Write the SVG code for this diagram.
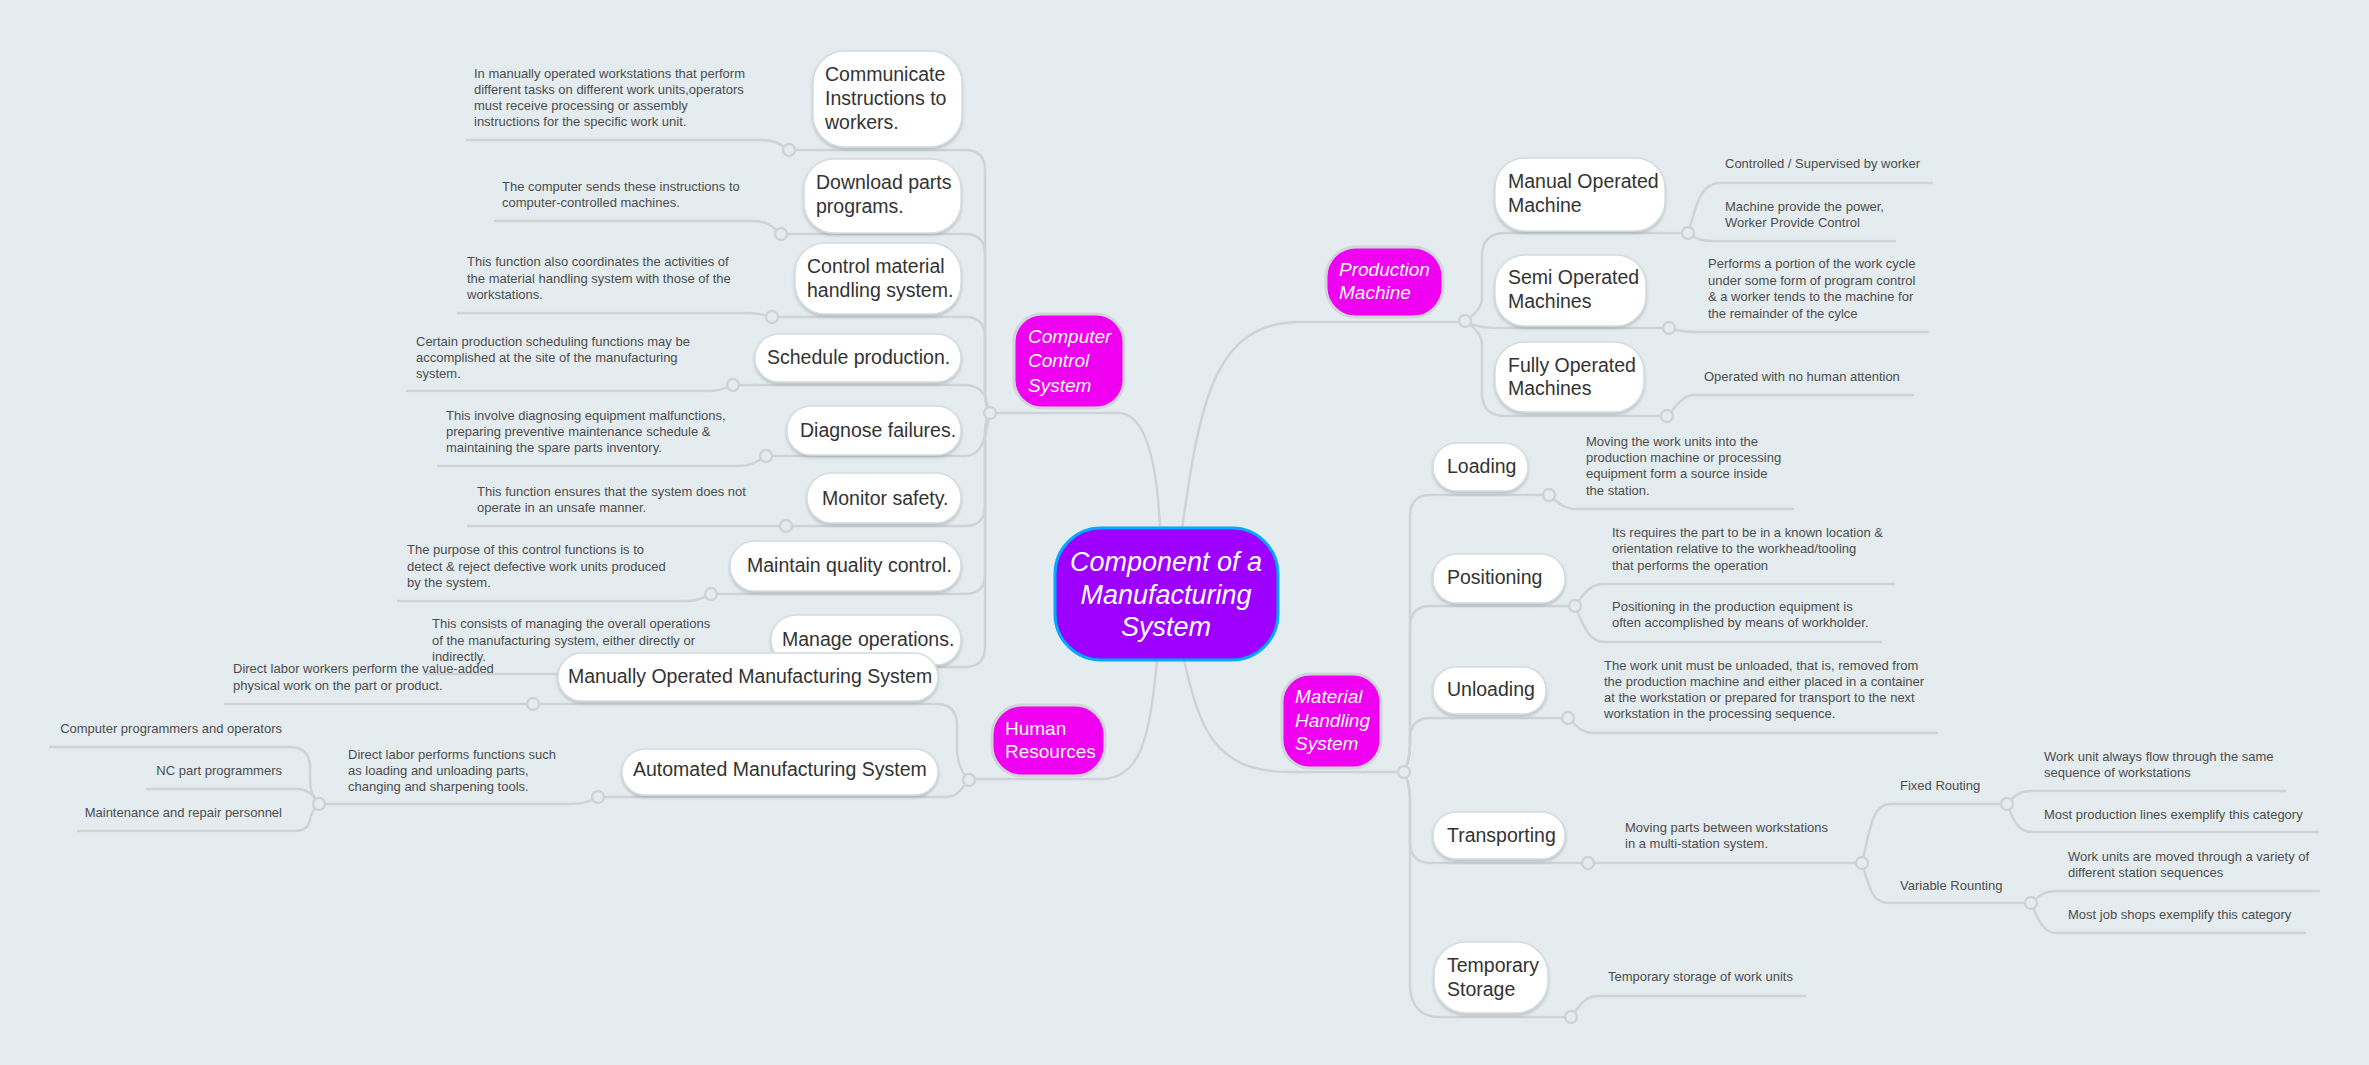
<svg xmlns="http://www.w3.org/2000/svg" width="2369" height="1065" viewBox="0 0 2369 1065">
<defs>
<filter id="sh" x="-10%" y="-15%" width="120%" height="140%">
<feDropShadow dx="0" dy="2" stdDeviation="1.6" flood-color="#8d979c" flood-opacity="0.5"/>
</filter>
<style>
.ln{fill:none;stroke:#cdd3d7;stroke-width:2.4;stroke-linecap:round}
.dot{fill:#e4ecef;stroke:#cdd3d7;stroke-width:2.4}
.wn{fill:#ffffff;stroke:#d6dcdf;stroke-width:1.5;filter:url(#sh)}
.mg{fill:#f000f0;stroke:#cfd5d8;stroke-width:3}
.nt{font-family:"Liberation Sans",Arial,sans-serif;font-size:19.5px;fill:#333333}
.mt{font-family:"Liberation Sans",Arial,sans-serif;font-size:19px;fill:#ffffff}
.it{font-style:italic}
.dt{font-family:"Liberation Sans",Arial,sans-serif;font-size:13px;fill:#4d4d4d}
.rt{font-family:"Liberation Sans",Arial,sans-serif;font-size:27px;font-style:italic;fill:#ffffff}
</style>
</defs>
<rect x="0" y="0" width="2369" height="1065" fill="#e4ecef"/>

<g id="connectors">
<!-- root links -->
<path class="ln" d="M 990 413 H 1118 C 1145 413 1157 460 1160 529"/>
<path class="ln" d="M 1182 529 C 1200 400 1215 322 1300 322 H 1465"/>
<path class="ln" d="M 1184 660 C 1200 730 1215 772 1290 772 H 1404"/>
<path class="ln" d="M 1157 660 C 1150 740 1140 779 1100 779 H 969"/>
<!-- CCS trunk -->
<path class="ln" d="M 990 413 Q 985 405 985 393 V 170 Q 985 150 965 150 H 789"/>
<path class="ln" d="M 990 413 Q 985 405 985 393 V 254 Q 985 234 965 234 H 781"/>
<path class="ln" d="M 990 413 Q 985 405 985 393 V 337 Q 985 317 965 317 H 772"/>
<path class="ln" d="M 990 413 C 986 400 985 385 965 385 H 733"/>
<path class="ln" d="M 990 413 C 986 430 985 456 965 456 H 766"/>
<path class="ln" d="M 990 413 Q 985 421 985 433 V 506 Q 985 526 965 526 H 786"/>
<path class="ln" d="M 990 413 Q 985 421 985 433 V 574 Q 985 594 965 594 H 711"/>
<path class="ln" d="M 990 413 Q 985 421 985 433 V 647 Q 985 667 965 667 H 745"/>
<!-- CCS descriptions -->
<path class="ln" d="M 789 150 C 778 142 772 140 760 140 H 467"/>
<path class="ln" d="M 781 234 C 770 224 765 221 752 221 H 495"/>
<path class="ln" d="M 772 317 C 762 314 758 313 748 313 H 458"/>
<path class="ln" d="M 733 385 C 722 389 718 391 708 391 H 407"/>
<path class="ln" d="M 766 456 C 755 463 750 466 739 466 H 438"/>
<path class="ln" d="M 786 526 H 468"/>
<path class="ln" d="M 711 594 C 700 599 696 601 686 601 H 398"/>
<path class="ln" d="M 745 667 C 735 672 730 674 720 674 H 424"/>
<!-- HR -->
<path class="ln" d="M 969 780 Q 958 770 957 750 V 722 Q 955 704 937 704 H 533"/>
<path class="ln" d="M 969 780 C 960 790 958 797 945 797 H 598"/>
<path class="ln" d="M 533 704 H 225"/>
<path class="ln" d="M 598 797 C 588 802 582 804 571 804 H 319"/>
<path class="ln" d="M 319 804 Q 310 795 310 780 V 765 Q 308 747 290 747 H 50"/>
<path class="ln" d="M 319 804 Q 312 790 298 789 H 147"/>
<path class="ln" d="M 319 804 Q 310 813 310 820 Q 308 831 294 831 H 78"/>
<!-- Production -->
<path class="ln" d="M 1465 321 Q 1482 310 1482 298 V 253 Q 1484 233 1505 233 H 1688"/>
<path class="ln" d="M 1465 321 Q 1475 328 1500 328 H 1669"/>
<path class="ln" d="M 1465 321 Q 1482 332 1482 345 V 396 Q 1484 416 1505 416 H 1667"/>
<path class="ln" d="M 1688 233 C 1695 215 1697 183 1720 183 H 1932"/>
<path class="ln" d="M 1688 233 C 1695 238 1700 241 1712 241 H 1895"/>
<path class="ln" d="M 1669 328 C 1678 331 1685 332 1695 332 H 1928"/>
<path class="ln" d="M 1667 416 C 1678 405 1682 395 1695 395 H 1913"/>
<!-- Material -->
<path class="ln" d="M 1404 772 Q 1410 760 1410 745 V 515 Q 1411 495 1430 495 H 1549"/>
<path class="ln" d="M 1404 772 Q 1410 760 1410 745 V 626 Q 1411 606 1430 606 H 1575"/>
<path class="ln" d="M 1404 772 Q 1410 760 1410 745 V 738 Q 1411 718 1430 718 H 1568"/>
<path class="ln" d="M 1404 772 Q 1410 784 1410 800 V 843 Q 1411 863 1430 863 H 1588"/>
<path class="ln" d="M 1404 772 Q 1410 784 1410 800 V 987 Q 1412 1017 1440 1017 H 1571"/>
<path class="ln" d="M 1549 495 C 1560 505 1565 509 1578 509 H 1793"/>
<path class="ln" d="M 1575 606 C 1585 592 1590 584 1605 584 H 1894"/>
<path class="ln" d="M 1575 606 C 1585 630 1590 642 1605 642 H 1881"/>
<path class="ln" d="M 1568 718 C 1578 728 1583 733 1595 733 H 1937"/>
<path class="ln" d="M 1588 863 H 1862"/>
<path class="ln" d="M 1862 863 C 1870 830 1872 804 1890 804 H 2007"/>
<path class="ln" d="M 1862 863 C 1870 890 1872 903 1890 903 H 2031"/>
<path class="ln" d="M 2007 804 C 2015 795 2020 791 2032 791 H 2285"/>
<path class="ln" d="M 2007 804 C 2015 825 2020 832 2032 832 H 2318"/>
<path class="ln" d="M 2031 903 C 2040 895 2045 891 2057 891 H 2319"/>
<path class="ln" d="M 2031 903 C 2040 925 2045 933 2057 933 H 2305"/>
<path class="ln" d="M 1571 1017 C 1580 1005 1585 996 1598 996 H 1805"/>
<!-- junction dots -->
<circle class="dot" cx="990" cy="413" r="6"/>
<circle class="dot" cx="1465" cy="321" r="6"/>
<circle class="dot" cx="1404" cy="772" r="6"/>
<circle class="dot" cx="969" cy="780" r="6"/>
<circle class="dot" cx="789" cy="150" r="6"/>
<circle class="dot" cx="781" cy="234" r="6"/>
<circle class="dot" cx="772" cy="317" r="6"/>
<circle class="dot" cx="733" cy="385" r="6"/>
<circle class="dot" cx="766" cy="456" r="6"/>
<circle class="dot" cx="786" cy="526" r="6"/>
<circle class="dot" cx="711" cy="594" r="6"/>
<circle class="dot" cx="745" cy="667" r="6"/>
<circle class="dot" cx="533" cy="704" r="6"/>
<circle class="dot" cx="598" cy="797" r="6"/>
<circle class="dot" cx="319" cy="804" r="6"/>
<circle class="dot" cx="1688" cy="233" r="6"/>
<circle class="dot" cx="1669" cy="328" r="6"/>
<circle class="dot" cx="1667" cy="416" r="6"/>
<circle class="dot" cx="1549" cy="495" r="6"/>
<circle class="dot" cx="1575" cy="606" r="6"/>
<circle class="dot" cx="1568" cy="718" r="6"/>
<circle class="dot" cx="1588" cy="863" r="6"/>
<circle class="dot" cx="1862" cy="863" r="6"/>
<circle class="dot" cx="2007" cy="804" r="6"/>
<circle class="dot" cx="2031" cy="903" r="6"/>
<circle class="dot" cx="1571" cy="1017" r="6"/>
</g>

<g id="root">
<rect x="1055" y="528" width="223" height="132" rx="46" fill="#9d00ff" stroke="#00aaff" stroke-width="3"/>
<text class="rt" text-anchor="middle" x="1166" y="571">Component of a</text>
<text class="rt" text-anchor="middle" x="1166" y="604">Manufacturing</text>
<text class="rt" text-anchor="middle" x="1166" y="636">System</text>
</g>

<g id="ccs">
<rect class="mg" x="1014" y="314" width="110" height="94" rx="28"/>
<text class="mt it" x="1028" y="343">Computer</text>
<text class="mt it" x="1028" y="367">Control</text>
<text class="mt it" x="1028" y="392">System</text>
</g>
<g id="production">
<rect class="mg" x="1326" y="247" width="117" height="70" rx="30"/>
<text class="mt it" x="1339" y="276">Production</text>
<text class="mt it" x="1339" y="299">Machine</text>
</g>
<g id="material">
<rect class="mg" x="1282" y="674" width="99" height="94" rx="28"/>
<text class="mt it" x="1295" y="703">Material</text>
<text class="mt it" x="1295" y="727">Handling</text>
<text class="mt it" x="1295" y="750">System</text>
</g>
<g id="human">
<rect class="mg" x="992" y="705" width="113" height="71" rx="30"/>
<text class="mt" x="1005" y="735">Human</text>
<text class="mt" x="1005" y="758">Resources</text>
</g>

<!-- CCS children -->
<g id="communicate">
<rect class="wn" x="813" y="51" width="149" height="96" rx="32"/>
<text class="nt" x="825" y="81">Communicate</text>
<text class="nt" x="825" y="105">Instructions to</text>
<text class="nt" x="825" y="129">workers.</text>
</g>
<g id="download">
<rect class="wn" x="804" y="159" width="157" height="74" rx="30"/>
<text class="nt" x="816" y="189">Download parts</text>
<text class="nt" x="816" y="213">programs.</text>
</g>
<g id="controlmh">
<rect class="wn" x="795" y="243" width="166" height="71" rx="30"/>
<text class="nt" x="807" y="273">Control material</text>
<text class="nt" x="807" y="297">handling system.</text>
</g>
<g id="schedule">
<rect class="wn" x="755" y="334" width="206" height="48" rx="24"/>
<text class="nt" x="767" y="364">Schedule production.</text>
</g>
<g id="diagnose">
<rect class="wn" x="787" y="406" width="174" height="49" rx="24"/>
<text class="nt" x="800" y="437">Diagnose failures.</text>
</g>
<g id="monitor">
<rect class="wn" x="807" y="473" width="154" height="50" rx="25"/>
<text class="nt" x="822" y="505">Monitor safety.</text>
</g>
<g id="quality">
<rect class="wn" x="730" y="541" width="231" height="50" rx="25"/>
<text class="nt" x="747" y="572">Maintain quality control.</text>
</g>
<g id="manage">
<rect class="wn" x="771" y="615" width="190" height="50" rx="25"/>
<text class="nt" x="782" y="646">Manage operations.</text>
</g>

<!-- CCS descriptions -->
<g id="d-communicate">
<text class="dt" x="474" y="78">In manually operated workstations that perform</text>
<text class="dt" x="474" y="94">different tasks on different work units,operators</text>
<text class="dt" x="474" y="110">must receive processing or assembly</text>
<text class="dt" x="474" y="126">instructions for the specific work unit.</text>
</g>
<g id="d-download">
<text class="dt" x="502" y="191">The computer sends these instructions to</text>
<text class="dt" x="502" y="207">computer-controlled machines.</text>
</g>
<g id="d-controlmh">
<text class="dt" x="467" y="266">This function also coordinates the activities of</text>
<text class="dt" x="467" y="283">the material handling system with those of the</text>
<text class="dt" x="467" y="299">workstations.</text>
</g>
<g id="d-schedule">
<text class="dt" x="416" y="346">Certain production scheduling functions may be</text>
<text class="dt" x="416" y="362">accomplished at the site of the manufacturing</text>
<text class="dt" x="416" y="378">system.</text>
</g>
<g id="d-diagnose">
<text class="dt" x="446" y="420">This involve diagnosing equipment malfunctions,</text>
<text class="dt" x="446" y="436">preparing preventive maintenance schedule &amp;</text>
<text class="dt" x="446" y="452">maintaining the spare parts inventory.</text>
</g>
<g id="d-monitor">
<text class="dt" x="477" y="496">This function ensures that the system does not</text>
<text class="dt" x="477" y="512">operate in an unsafe manner.</text>
</g>
<g id="d-quality">
<text class="dt" x="407" y="554">The purpose of this control functions is to</text>
<text class="dt" x="407" y="571">detect &amp; reject defective work units produced</text>
<text class="dt" x="407" y="587">by the system.</text>
</g>
<g id="d-manage">
<text class="dt" x="432" y="628">This consists of managing the overall operations</text>
<text class="dt" x="432" y="645">of the manufacturing system, either directly or</text>
<text class="dt" x="432" y="661">indirectly.</text>
</g>

<!-- HR children -->
<g id="moms">
<rect class="wn" x="558" y="653" width="380" height="48" rx="24"/>
<text class="nt" x="568" y="683">Manually Operated Manufacturing System</text>
</g>
<g id="d-moms">
<text class="dt" x="233" y="673">Direct labor workers perform the value-added</text>
<text class="dt" x="233" y="690">physical work on the part or product.</text>
</g>
<g id="ams">
<rect class="wn" x="622" y="749" width="316" height="46" rx="23"/>
<text class="nt" x="633" y="776">Automated Manufacturing System</text>
</g>
<g id="d-ams">
<text class="dt" x="348" y="759">Direct labor performs functions such</text>
<text class="dt" x="348" y="775">as loading and unloading parts,</text>
<text class="dt" x="348" y="791">changing and sharpening tools.</text>
</g>
<g id="d-ams-1"><text class="dt" text-anchor="end" x="282" y="733">Computer programmers and operators</text></g>
<g id="d-ams-2"><text class="dt" text-anchor="end" x="282" y="775">NC part programmers</text></g>
<g id="d-ams-3"><text class="dt" text-anchor="end" x="282" y="817">Maintenance and repair personnel</text></g>

<!-- Production children -->
<g id="manualmachine">
<rect class="wn" x="1495" y="158" width="170" height="73" rx="30"/>
<text class="nt" x="1508" y="188">Manual Operated</text>
<text class="nt" x="1508" y="212">Machine</text>
</g>
<g id="d-manual-1"><text class="dt" x="1725" y="168">Controlled / Supervised by worker</text></g>
<g id="d-manual-2">
<text class="dt" x="1725" y="211">Machine provide the power,</text>
<text class="dt" x="1725" y="227">Worker Provide Control</text>
</g>
<g id="semimachine">
<rect class="wn" x="1495" y="255" width="151" height="71" rx="30"/>
<text class="nt" x="1508" y="284">Semi Operated</text>
<text class="nt" x="1508" y="308">Machines</text>
</g>
<g id="d-semi">
<text class="dt" x="1708" y="268">Performs a portion of the work cycle</text>
<text class="dt" x="1708" y="285">under some form of program control</text>
<text class="dt" x="1708" y="301">&amp; a worker tends to the machine for</text>
<text class="dt" x="1708" y="318">the remainder of the cylce</text>
</g>
<g id="fullymachine">
<rect class="wn" x="1495" y="342" width="149" height="70" rx="30"/>
<text class="nt" x="1508" y="372">Fully Operated</text>
<text class="nt" x="1508" y="395">Machines</text>
</g>
<g id="d-fully"><text class="dt" x="1704" y="381">Operated with no human attention</text></g>

<!-- Material children -->
<g id="loading">
<rect class="wn" x="1433" y="443" width="95" height="48" rx="24"/>
<text class="nt" x="1447" y="473">Loading</text>
</g>
<g id="d-loading">
<text class="dt" x="1586" y="446">Moving the work units into the</text>
<text class="dt" x="1586" y="462">production machine or processing</text>
<text class="dt" x="1586" y="478">equipment form a source inside</text>
<text class="dt" x="1586" y="495">the station.</text>
</g>
<g id="positioning">
<rect class="wn" x="1433" y="554" width="132" height="49" rx="24"/>
<text class="nt" x="1447" y="584">Positioning</text>
</g>
<g id="d-positioning-1">
<text class="dt" x="1612" y="537">Its requires the part to be in a known location &amp;</text>
<text class="dt" x="1612" y="553">orientation relative to the workhead/tooling</text>
<text class="dt" x="1612" y="570">that performs the operation</text>
</g>
<g id="d-positioning-2">
<text class="dt" x="1612" y="611">Positioning in the production equipment is</text>
<text class="dt" x="1612" y="627">often accomplished by means of workholder.</text>
</g>
<g id="unloading">
<rect class="wn" x="1433" y="667" width="113" height="47" rx="23"/>
<text class="nt" x="1447" y="696">Unloading</text>
</g>
<g id="d-unloading">
<text class="dt" x="1604" y="670">The work unit must be unloaded, that is, removed from</text>
<text class="dt" x="1604" y="686">the production machine and either placed in a container</text>
<text class="dt" x="1604" y="702">at the workstation or prepared for transport to the next</text>
<text class="dt" x="1604" y="718">workstation in the processing sequence.</text>
</g>
<g id="transporting">
<rect class="wn" x="1433" y="812" width="132" height="47" rx="23"/>
<text class="nt" x="1447" y="842">Transporting</text>
</g>
<g id="d-transporting">
<text class="dt" x="1625" y="832">Moving parts between workstations</text>
<text class="dt" x="1625" y="848">in a multi-station system.</text>
</g>
<g id="fixed"><text class="dt" x="1900" y="790">Fixed Routing</text></g>
<g id="d-fixed-1">
<text class="dt" x="2044" y="761">Work unit always flow through the same</text>
<text class="dt" x="2044" y="777">sequence of workstations</text>
</g>
<g id="d-fixed-2"><text class="dt" x="2044" y="819">Most production lines exemplify this category</text></g>
<g id="variable"><text class="dt" x="1900" y="890">Variable Rounting</text></g>
<g id="d-variable-1">
<text class="dt" x="2068" y="861">Work units are moved through a variety of</text>
<text class="dt" x="2068" y="877">different station sequences</text>
</g>
<g id="d-variable-2"><text class="dt" x="2068" y="919">Most job shops exemplify this category</text></g>
<g id="storage">
<rect class="wn" x="1434" y="942" width="114" height="71" rx="32"/>
<text class="nt" x="1447" y="972">Temporary</text>
<text class="nt" x="1447" y="996">Storage</text>
</g>
<g id="d-storage"><text class="dt" x="1608" y="981">Temporary storage of work units</text></g>
</svg>
